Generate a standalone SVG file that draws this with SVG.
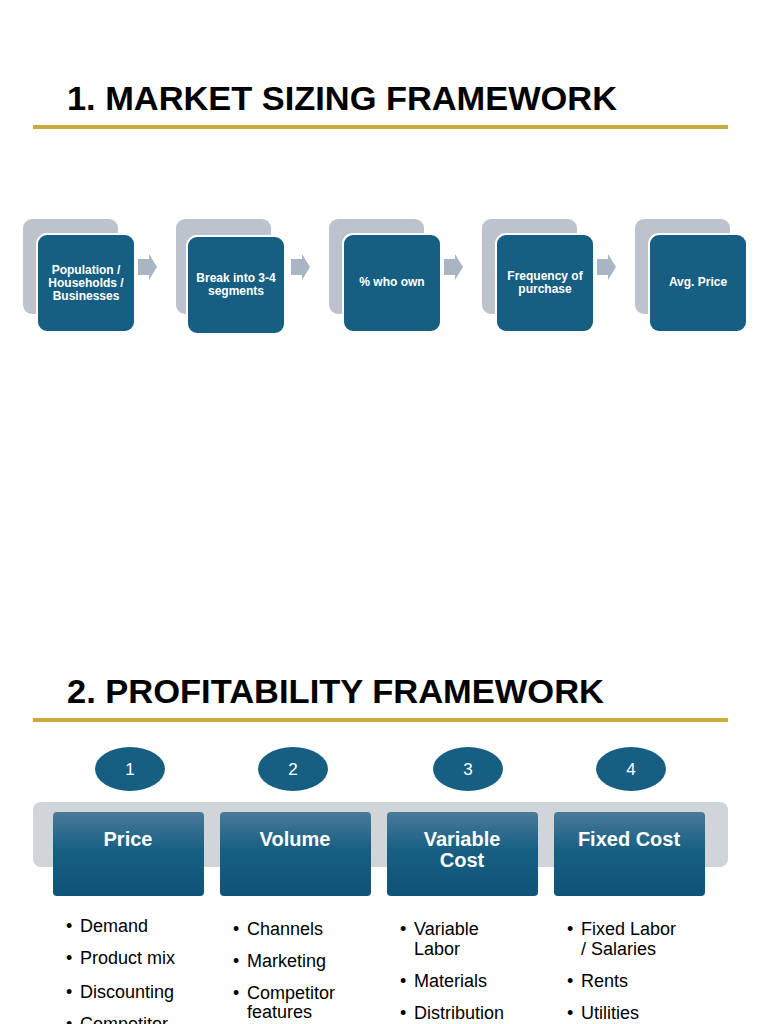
<svg xmlns="http://www.w3.org/2000/svg" width="768" height="1024" viewBox="0 0 768 1024">
<style>
text{font-family:"Liberation Sans",Arial,sans-serif}
.t{font-size:33px;font-weight:bold;fill:#000}
.bk{fill:#bcc3cc;stroke:#fff;stroke-width:2}
.fr{fill:#175f82;stroke:#fff;stroke-width:2}
.bl{font-size:12px;font-weight:bold;fill:#fff;text-anchor:middle}
.ar{fill:#aab5c3}
.el{fill:#175f82}
.num{font-size:17px;fill:#fff;text-anchor:middle}
.hd{fill:url(#g)}
.ht{font-size:20px;font-weight:bold;fill:#fff;text-anchor:middle}
.li{font-size:18px;fill:#000}
</style>
<defs>
<linearGradient id="g" x1="0" y1="0" x2="0" y2="1">
<stop offset="0" stop-color="#4a7a99"/><stop offset="0.45" stop-color="#175f82"/><stop offset="1" stop-color="#0f5478"/>
</linearGradient>
</defs>
<rect width="768" height="1024" fill="#fff"/>
<text class="t" x="67" y="110" textLength="550" lengthAdjust="spacingAndGlyphs">1. MARKET SIZING FRAMEWORK</text>
<rect x="33" y="125" width="695" height="4" fill="#c9ab3c"/>
<g id="connectors">
<polygon class="ar" points="138,259 149,259 149,254 157,267 149,280 149,275 138,275"/>
<polygon class="ar" points="291,259 302,259 302,254 310,267 302,280 302,275 291,275"/>
<polygon class="ar" points="444,259 455,259 455,254 463,267 455,280 455,275 444,275"/>
<polygon class="ar" points="597,259 608,259 608,254 616,267 608,280 608,275 597,275"/>
</g>
<g id="n1"><rect class="bk" x="22" y="218" width="97" height="97" rx="10"/><rect class="fr" x="37" y="234" width="98" height="98" rx="10"/>
<text class="bl" x="86" y="274">Population /</text><text class="bl" x="86" y="287">Households /</text><text class="bl" x="86" y="300">Businesses</text></g>
<g id="n2"><rect class="bk" x="175" y="218" width="97" height="97" rx="10"/><rect class="fr" x="187" y="236" width="98" height="98" rx="10"/>
<text class="bl" x="236" y="282">Break into 3-4</text><text class="bl" x="236" y="295">segments</text></g>
<g id="n3"><rect class="bk" x="328" y="218" width="97" height="97" rx="10"/><rect class="fr" x="343" y="234" width="98" height="98" rx="10"/>
<text class="bl" x="392" y="286">% who own</text></g>
<g id="n4"><rect class="bk" x="481" y="218" width="97" height="97" rx="10"/><rect class="fr" x="496" y="234" width="98" height="98" rx="10"/>
<text class="bl" x="545" y="280">Frequency of</text><text class="bl" x="545" y="293">purchase</text></g>
<g id="n5"><rect class="bk" x="634" y="218" width="97" height="97" rx="10"/><rect class="fr" x="649" y="234" width="98" height="98" rx="10"/>
<text class="bl" x="698" y="286">Avg. Price</text></g>

<text class="t" x="67" y="703" textLength="537" lengthAdjust="spacingAndGlyphs">2. PROFITABILITY FRAMEWORK</text>
<rect x="33" y="718" width="695" height="4" fill="#c9ab3c"/>
<rect x="33" y="802" width="695" height="65" rx="8" fill="#d0d5da"/>
<g id="e1"><ellipse class="el" cx="130" cy="769" rx="35" ry="22"/><text class="num" x="130" y="775">1</text></g>
<g id="e2"><ellipse class="el" cx="293" cy="769" rx="35" ry="22"/><text class="num" x="293" y="775">2</text></g>
<g id="e3"><ellipse class="el" cx="468" cy="769" rx="35" ry="22"/><text class="num" x="468" y="775">3</text></g>
<g id="e4"><ellipse class="el" cx="631" cy="769" rx="35" ry="22"/><text class="num" x="631" y="775">4</text></g>
<g id="h1"><rect class="hd" x="53" y="812" width="151" height="84" rx="4"/><text class="ht" x="128" y="846">Price</text></g>
<g id="h2"><rect class="hd" x="220" y="812" width="151" height="84" rx="4"/><text class="ht" x="295" y="846">Volume</text></g>
<g id="h3"><rect class="hd" x="387" y="812" width="151" height="84" rx="4"/><text class="ht" x="462" y="846">Variable</text><text class="ht" x="462" y="867">Cost</text></g>
<g id="h4"><rect class="hd" x="554" y="812" width="151" height="84" rx="4"/><text class="ht" x="629" y="846">Fixed Cost</text></g>
<g id="l1" class="li">
<text x="66" y="932">•</text><text x="80" y="932">Demand</text>
<text x="66" y="964">•</text><text x="80" y="964">Product mix</text>
<text x="66" y="998">•</text><text x="80" y="998">Discounting</text>
<text x="66" y="1030">•</text><text x="80" y="1030">Competitor</text></g>
<g id="l2" class="li">
<text x="233" y="935">•</text><text x="247" y="935">Channels</text>
<text x="233" y="967">•</text><text x="247" y="967">Marketing</text>
<text x="233" y="999">•</text><text x="247" y="999">Competitor</text><text x="247" y="1018">features</text></g>
<g id="l3" class="li">
<text x="400" y="935">•</text><text x="414" y="935">Variable</text><text x="414" y="955">Labor</text>
<text x="400" y="987">•</text><text x="414" y="987">Materials</text>
<text x="400" y="1019">•</text><text x="414" y="1019">Distribution</text></g>
<g id="l4" class="li">
<text x="567" y="935">•</text><text x="581" y="935">Fixed Labor</text><text x="581" y="955">/ Salaries</text>
<text x="567" y="987">•</text><text x="581" y="987">Rents</text>
<text x="567" y="1019">•</text><text x="581" y="1019">Utilities</text></g>
</svg>
